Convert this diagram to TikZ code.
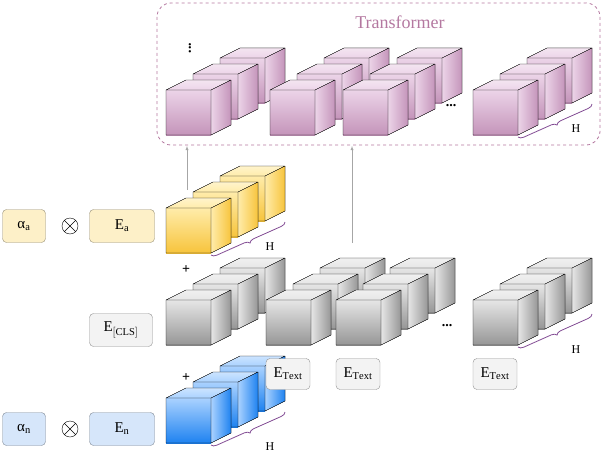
\documentclass[tikz,border=0pt]{standalone}
\usepackage{fontspec}
\setmainfont{Liberation Serif}
\usetikzlibrary{decorations.pathreplacing}
\begin{document}
\begin{tikzpicture}[x=1pt,y=-1pt,font=\fontsize{15}{17}\selectfont,
  lbl/.style={draw=#1!60!black,fill=#1,rounded corners=4pt,minimum height=33pt,inner sep=2pt},
  hl/.style={font=\fontsize{12}{14}\selectfont},
  dl/.style={font=\fontsize{14}{16}\selectfont\bfseries},
  br/.style={draw=black!50!red!60!blue!70,thick,decorate,decoration={brace,mirror,amplitude=5pt}}]
\definecolor{pkA}{RGB}{236,212,232}\definecolor{pkB}{RGB}{196,148,186}
\definecolor{ywA}{RGB}{255,236,170}\definecolor{ywB}{RGB}{247,196,60}
\definecolor{gyA}{RGB}{230,230,230}\definecolor{gyB}{RGB}{150,150,150}
\definecolor{blA}{RGB}{170,210,255}\definecolor{blB}{RGB}{30,130,240}
\definecolor{yl}{RGB}{253,240,200}\definecolor{bl}{RGB}{214,230,250}\definecolor{gl}{RGB}{243,243,243}
\definecolor{tf}{RGB}{180,120,160}
\useasboundingbox (0,0) rectangle (607,460);
\newcommand\mycube[4]{%
 \fill[top color=#3!60!white,bottom color=#3] (#1,#2) -- ++(20,-10) -- ++(45,0) -- ++(-20,10) -- cycle;
 \fill[left color=#3,right color=#4] (#1+45,#2) -- ++(20,-10) -- ++(0,45) -- ++(-20,10) -- cycle;
 \fill[top color=#3,bottom color=#4] (#1,#2) rectangle ++(45,45);
 \draw[line join=round] (#1,#2) rectangle ++(45,45) (#1,#2) -- ++(20,-10) -- ++(45,0) -- ++(-20,10) (#1+65,#2-10) -- ++(0,45) -- ++(-20,10);}
\newcommand\myrow[4]{%
 \foreach \x in {#1}{\mycube{\x+54}{#2-32}{#3}{#4}}%
 \foreach \x in {#1}{\mycube{\x+27}{#2-16}{#3}{#4}}%
 \foreach \x in {#1}{\mycube{\x}{#2}{#3}{#4}}}
% transformer box
\draw[tf,thick,dashed,rounded corners=14pt] (157,3) rectangle (600,145);
\node[tf,font=\fontsize{18}{20}\selectfont] (title) at (400,22) {Transformer};
\node[dl,rotate=90] (vd) at (190,48) {...};
\myrow{166,270,343,473}{90}{pkA}{pkB}
\node[dl] (hd1) at (451,106) {...};
\draw[br] (518,137) -- (592,104); \node[hl] (h1) at (576,129) {H};
% yellow
\myrow{166}{208}{ywA}{ywB}
\draw[br] (211,255) -- (285,222); \node[hl] (h2) at (270,247) {H};
\node[lbl=yl,minimum width=43pt] (aa) at (24,226) {α$_\mathrm{a}$};
\node[circle,draw,inner sep=0pt,minimum size=16pt] (o1) at (70,226) {};
\draw (o1.45)--(o1.225) (o1.135)--(o1.315);
\node[lbl=yl,minimum width=65pt] (ea) at (122,226) {E$_\mathrm{a}$};
% gray
\node[dl] (p1) at (186,270) {+};
\myrow{166,266,336,473}{300}{gyA}{gyB}
\node[dl] (hd2) at (447,326) {...};
\draw[br] (518,347) -- (592,314); \node[hl] (h3) at (576,350) {H};
\node[lbl=gl,minimum width=63pt] (cls) at (121,330) {E$_{\mathrm{[CLS]}}$};
% blue
\node[dl] (p2) at (186,378) {+};
\myrow{166}{398}{blA}{blB}
\draw[br] (211,445) -- (285,412); \node[hl] (h4) at (270,447) {H};
\node[lbl=bl,minimum width=43pt] (an) at (24,429) {α$_\mathrm{n}$};
\node[circle,draw,inner sep=0pt,minimum size=16pt] (o2) at (70,429) {};
\draw (o2.45)--(o2.225) (o2.135)--(o2.315);
\node[lbl=bl,minimum width=65pt] (en) at (122,429) {E$_\mathrm{n}$};
\foreach \x/\n in {288/t1,358/t2,495/t3}{\node[lbl=gl,minimum height=31pt,minimum width=44pt,inner sep=1pt] (\n) at (\x,374) {E$_{\mathrm{Text}}$};}
% arrows
\coordinate (s1) at (187,190); \coordinate (e1) at (187,146);
\coordinate (s2) at (352,243); \coordinate (e2) at (352,146);
\draw[gray!70,-latex] (s1) -- (e1);
\draw[gray!70,-latex] (s2) -- (e2);
\end{tikzpicture}
\end{document}
